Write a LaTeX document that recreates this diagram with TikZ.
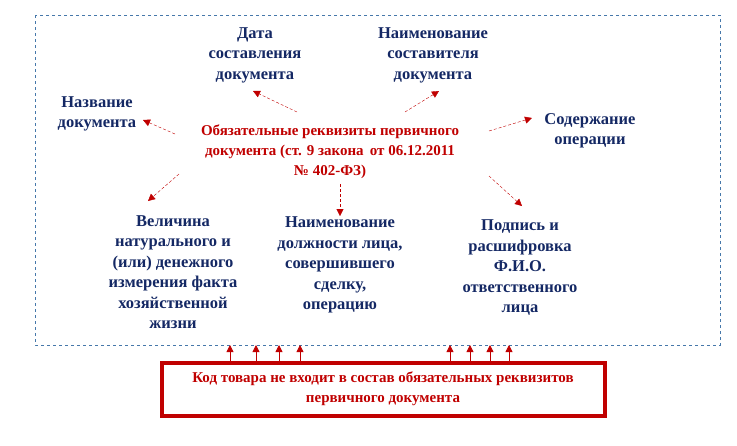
\documentclass[tikz,border=0pt]{standalone}
\usepackage{fontspec}
\setmainfont{Liberation Serif}
\usetikzlibrary{arrows.meta,positioning}
\definecolor{dblue}{RGB}{20,40,100}
\definecolor{dred}{RGB}{192,0,0}
\definecolor{frameblue}{RGB}{70,120,170}
\tikzset{
	req/.style={font=\bfseries\fontsize{16.5}{20.5}\selectfont,text=dblue,align=center,inner sep=1pt},
	mainreq/.style={font=\bfseries\fontsize{15}{20}\selectfont,text=dred,align=center,inner sep=1pt},
	dasharrow/.style={dred,densely dashed,-{Triangle[length=7pt,width=7pt]}},
	uparrow/.style={dred,thick,-{Triangle[length=7pt,width=7pt]}}
}
\begin{document}
\begin{tikzpicture}[x=1pt,y=-1pt]
\useasboundingbox (0,0) rectangle (737,445);
\draw[frameblue,dashed] (35,15) rectangle (720,345);
\node[mainreq] (mid) at (330,152) {Обязательные реквизиты первичного\\документа (ст. 9 закона\, от 06.12.2011\\№ 402-ФЗ)};
\node[req] (date) at (255,55) {Дата\\составления\\документа};
\node[req] (author) at (433,55) {Наименование\\составителя\\документа};
\node[req] (title) at (97,114) {Название\\документа};
\node[req] (content) at (590,131) {Содержание\\операции};
\node[req] (value) at (173,272) {Величина\\натурального и\\(или) денежного\\измерения факта\\хозяйственной\\жизни};
\node[req] (post) at (340,265) {Наименование\\должности лица,\\совершившего\\сделку,\\операцию};
\node[req] (sign) at (520,268) {Подпись и\\расшифровка\\Ф.И.О.\\ответственного\\лица};
\node[draw=dred,line width=4pt,minimum width=443,minimum height=53,mainreq] (code) at (383,389) {Код товара не входит в состав обязательных реквизитов\\первичного документа};
% arrows from the centre
\coordinate (m1) at (297,112); \coordinate (t1) at (253,91);
\coordinate (m2) at (405,112); \coordinate (t2) at (439,91);
\coordinate (m3) at (175,134); \coordinate (t3) at (143,120);
\coordinate (m4) at (489,131); \coordinate (t4) at (532,118);
\coordinate (m5) at (179,174); \coordinate (t5) at (148,201);
\coordinate (m6) at (340,184); \coordinate (t6) at (340,216);
\coordinate (m7) at (489,176); \coordinate (t7) at (522,206);
\foreach \i in {1,...,7}
	\draw[dasharrow] (m\i) -- (t\i);
% arrows from the box
\foreach \x in {230,256,279,300,450,470,490,509}
	\draw[uparrow] (code.north -| \x,0) -- (\x,345);
\end{tikzpicture}
\end{document}
